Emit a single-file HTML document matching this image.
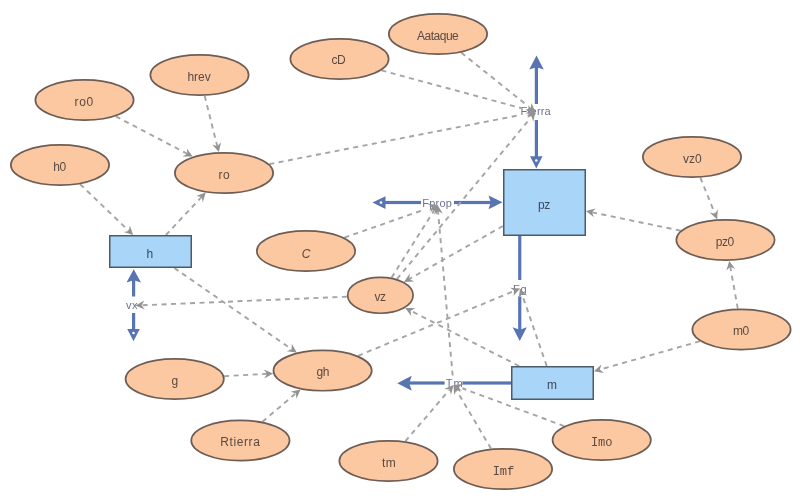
<!DOCTYPE html>
<html><head><meta charset="utf-8"><style>
html,body{margin:0;padding:0;background:#fff;width:800px;height:499px;overflow:hidden}
svg{display:block}
svg{will-change:transform}
.t{font-family:"Liberation Sans",sans-serif;font-size:12px;fill:#5a4a40;text-anchor:middle}
.it{font-style:italic}
.tr{font-family:"Liberation Sans",sans-serif;font-size:12px;fill:#3a4a5e;text-anchor:middle}
.v{font-family:"Liberation Sans",sans-serif;font-size:11px;fill:#687490;text-anchor:middle}
</style></head><body>
<svg width="800" height="499" viewBox="0 0 800 499">
<rect width="800" height="499" fill="#fff"/>
<rect x="534.80" y="66" width="3.2" height="38" fill="#5874b2"/>
<rect x="534.80" y="120" width="3.2" height="37" fill="#5874b2"/>
<path d="M536.5,55.5 L543.75,69.50 L536.50,67.25 L529.25,69.50 Z" fill="#5874b2"/>
<path d="M536.3,168.5 L530.05,156.25 L542.55,156.25 Z" fill="#5874b2"/><circle cx="536.3" cy="160.5" r="1.3" fill="#fff"/>
<rect x="384" y="200.90" width="37" height="3.2" fill="#5874b2"/>
<rect x="454" y="200.90" width="37" height="3.2" fill="#5874b2"/>
<path d="M502.5,202.3 L488.50,209.20 L490.80,202.30 L488.50,195.40 Z" fill="#5874b2"/>
<path d="M372.5,202.6 L385.50,196.20 L385.50,209.00 Z" fill="#5874b2"/><circle cx="381" cy="202.6" r="1.3" fill="#fff"/>
<rect x="132.00" y="279" width="3.2" height="18" fill="#5874b2"/>
<rect x="132.00" y="312" width="3.2" height="18" fill="#5874b2"/>
<path d="M133.75,269.25 L141.00,282.50 L133.75,280.30 L126.50,282.50 Z" fill="#5874b2"/>
<path d="M133.5,341.25 L127.25,329.00 L139.75,329.00 Z" fill="#5874b2"/><circle cx="133.5" cy="333" r="1.3" fill="#fff"/>
<rect x="518.15" y="236" width="3.2" height="44" fill="#5874b2"/>
<rect x="518.15" y="296" width="3.2" height="34" fill="#5874b2"/>
<path d="M519.75,341 L512.65,327.25 L519.75,329.75 L526.85,327.25 Z" fill="#5874b2"/>
<rect x="409" y="381.40" width="36" height="3.2" fill="#5874b2"/>
<rect x="462" y="381.40" width="50" height="3.2" fill="#5874b2"/>
<path d="M397.25,383.25 L411.75,375.85 L409.25,383.25 L411.75,390.65 Z" fill="#5874b2"/>
<line x1="115.8" y1="116.4" x2="187.4" y2="153.8" stroke="#a4a4a4" stroke-width="1.9" stroke-dasharray="5,4.5"/>
<line x1="204.7" y1="95.9" x2="217.3" y2="146.3" stroke="#a4a4a4" stroke-width="1.9" stroke-dasharray="5,4.5"/>
<line x1="80.1" y1="184.2" x2="128.9" y2="230.9" stroke="#a4a4a4" stroke-width="1.9" stroke-dasharray="5,4.5"/>
<line x1="165.9" y1="235.0" x2="201.6" y2="196.9" stroke="#a4a4a4" stroke-width="1.9" stroke-dasharray="5,4.5"/>
<line x1="269.3" y1="164.1" x2="529.6" y2="113.2" stroke="#a4a4a4" stroke-width="1.9" stroke-dasharray="5,4.5"/>
<line x1="381.5" y1="70.4" x2="529.7" y2="110.4" stroke="#a4a4a4" stroke-width="1.9" stroke-dasharray="5,4.5"/>
<line x1="461.2" y1="52.6" x2="530.8" y2="108.3" stroke="#a4a4a4" stroke-width="1.9" stroke-dasharray="5,4.5"/>
<line x1="397.0" y1="279.0" x2="531.7" y2="116.6" stroke="#a4a4a4" stroke-width="1.9" stroke-dasharray="5,4.5"/>
<line x1="344.4" y1="237.6" x2="431.8" y2="207.0" stroke="#a4a4a4" stroke-width="1.9" stroke-dasharray="5,4.5"/>
<line x1="391.6" y1="277.6" x2="434.3" y2="210.1" stroke="#a4a4a4" stroke-width="1.9" stroke-dasharray="5,4.5"/>
<line x1="453.5" y1="385.0" x2="438.0" y2="211.0" stroke="#a4a4a4" stroke-width="1.9" stroke-dasharray="5,4.5"/>
<line x1="503.0" y1="226.0" x2="409.3" y2="279.0" stroke="#a4a4a4" stroke-width="1.9" stroke-dasharray="5,4.5"/>
<line x1="519.1" y1="366.0" x2="410.6" y2="310.7" stroke="#a4a4a4" stroke-width="1.9" stroke-dasharray="5,4.5"/>
<line x1="346.9" y1="296.7" x2="141.5" y2="305.3" stroke="#a4a4a4" stroke-width="1.9" stroke-dasharray="5,4.5"/>
<line x1="174.3" y1="268.0" x2="291.7" y2="349.2" stroke="#a4a4a4" stroke-width="1.9" stroke-dasharray="5,4.5"/>
<line x1="224.2" y1="376.2" x2="267.1" y2="373.8" stroke="#a4a4a4" stroke-width="1.9" stroke-dasharray="5,4.5"/>
<line x1="262.5" y1="421.7" x2="295.9" y2="393.3" stroke="#a4a4a4" stroke-width="1.9" stroke-dasharray="5,4.5"/>
<line x1="358.1" y1="355.8" x2="514.5" y2="290.8" stroke="#a4a4a4" stroke-width="1.9" stroke-dasharray="5,4.5"/>
<line x1="546.7" y1="366.0" x2="522.0" y2="294.2" stroke="#a4a4a4" stroke-width="1.9" stroke-dasharray="5,4.5"/>
<line x1="700.0" y1="341.2" x2="599.8" y2="369.6" stroke="#a4a4a4" stroke-width="1.9" stroke-dasharray="5,4.5"/>
<line x1="737.8" y1="308.6" x2="730.3" y2="266.8" stroke="#a4a4a4" stroke-width="1.9" stroke-dasharray="5,4.5"/>
<line x1="700.4" y1="177.7" x2="714.9" y2="213.7" stroke="#a4a4a4" stroke-width="1.9" stroke-dasharray="5,4.5"/>
<line x1="680.7" y1="230.7" x2="591.9" y2="212.3" stroke="#a4a4a4" stroke-width="1.9" stroke-dasharray="5,4.5"/>
<line x1="405.4" y1="441.2" x2="449.6" y2="389.6" stroke="#a4a4a4" stroke-width="1.9" stroke-dasharray="5,4.5"/>
<line x1="491.0" y1="448.6" x2="456.5" y2="390.2" stroke="#a4a4a4" stroke-width="1.9" stroke-dasharray="5,4.5"/>
<line x1="564.2" y1="426.1" x2="459.1" y2="387.1" stroke="#a4a4a4" stroke-width="1.9" stroke-dasharray="5,4.5"/>
<g fill="#fff"><rect x="521" y="104" width="30" height="16"/><rect x="421" y="197" width="32" height="13"/><rect x="444.6" y="376" width="17.799999999999955" height="14"/><rect x="513" y="280.5" width="14" height="16.0"/><rect x="125" y="296.5" width="13" height="16.5"/></g>
<g id="vl"><text x="535.60" y="115.30" class="v" textLength="30.20" lengthAdjust="spacing">Fterra</text>
<text x="437.05" y="207.00" class="v" textLength="29.60" lengthAdjust="spacing">Fprop</text>
<text x="131.73" y="309.30" class="v" textLength="11.50" lengthAdjust="spacing">vx</text>
<text x="519.85" y="293.30" class="v" textLength="13.52" lengthAdjust="spacing">Fg</text>
<text x="454.18" y="387.10" class="v" textLength="16.83" lengthAdjust="spacing">Tm</text></g>
<path d="M192.7,156.6 L182.6,156.4 L187.4,153.8 L186.8,148.5 Z" fill="#929292"/>
<path d="M218.8,152.1 L212.2,144.5 L217.3,146.3 L221.0,142.3 Z" fill="#929292"/>
<path d="M133.2,235.0 L123.6,232.0 L128.9,230.9 L129.8,225.5 Z" fill="#929292"/>
<path d="M205.7,192.5 L202.8,202.2 L201.6,196.9 L196.3,196.0 Z" fill="#929292"/>
<path d="M535.5,112.0 L527.5,118.1 L529.6,113.2 L525.8,109.3 Z" fill="#929292"/>
<path d="M535.5,112.0 L525.6,114.0 L529.7,110.4 L528.0,105.3 Z" fill="#929292"/>
<path d="M535.5,112.0 L525.7,109.9 L530.8,108.3 L531.3,102.9 Z" fill="#929292"/>
<path d="M535.5,112.0 L533.2,121.8 L531.7,116.6 L526.3,116.1 Z" fill="#929292"/>
<path d="M437.5,205.0 L430.5,212.2 L431.8,207.0 L427.5,203.7 Z" fill="#929292"/>
<path d="M437.5,205.0 L436.5,215.0 L434.3,210.1 L428.9,210.2 Z" fill="#929292"/>
<path d="M437.5,205.0 L442.8,213.6 L438.0,211.0 L433.8,214.4 Z" fill="#929292"/>
<path d="M404.0,281.9 L409.7,273.6 L409.3,279.0 L414.1,281.4 Z" fill="#929292"/>
<path d="M405.2,308.0 L415.3,308.0 L410.6,310.7 L411.2,316.1 Z" fill="#929292"/>
<path d="M135.5,305.5 L144.3,300.6 L141.5,305.3 L144.7,309.6 Z" fill="#929292"/>
<path d="M296.7,352.6 L286.7,351.2 L291.7,349.2 L291.8,343.8 Z" fill="#929292"/>
<path d="M273.1,373.4 L264.3,378.4 L267.1,373.8 L263.8,369.4 Z" fill="#929292"/>
<path d="M300.5,389.4 L296.5,398.7 L295.9,393.3 L290.7,391.8 Z" fill="#929292"/>
<path d="M520.0,288.5 L513.4,296.1 L514.5,290.8 L510.0,287.8 Z" fill="#929292"/>
<path d="M520.0,288.5 L527.2,295.5 L522.0,294.2 L518.7,298.5 Z" fill="#929292"/>
<path d="M594.0,371.3 L601.4,364.5 L599.8,369.6 L603.9,373.1 Z" fill="#929292"/>
<path d="M729.2,260.9 L735.3,269.0 L730.3,266.8 L726.4,270.6 Z" fill="#929292"/>
<path d="M717.1,219.3 L709.6,212.6 L714.9,213.7 L717.9,209.3 Z" fill="#929292"/>
<path d="M586.0,211.1 L595.7,208.5 L591.9,212.3 L593.9,217.3 Z" fill="#929292"/>
<path d="M453.5,385.0 L451.1,394.8 L449.6,389.6 L444.2,388.9 Z" fill="#929292"/>
<path d="M453.5,385.0 L461.9,390.5 L456.5,390.2 L454.2,395.0 Z" fill="#929292"/>
<path d="M453.5,385.0 L463.5,383.9 L459.1,387.1 L460.4,392.4 Z" fill="#929292"/>
<ellipse cx="84.5" cy="100" rx="49.15" ry="20.15" fill="#fcc8a2" stroke="#6d5d54" stroke-width="1.7"/>
<ellipse cx="199.5" cy="75" rx="49.15" ry="20.15" fill="#fcc8a2" stroke="#6d5d54" stroke-width="1.7"/>
<ellipse cx="60" cy="165" rx="49.15" ry="20.15" fill="#fcc8a2" stroke="#6d5d54" stroke-width="1.7"/>
<ellipse cx="224" cy="173" rx="49.15" ry="20.15" fill="#fcc8a2" stroke="#6d5d54" stroke-width="1.7"/>
<ellipse cx="339.5" cy="59" rx="49.15" ry="20.15" fill="#fcc8a2" stroke="#6d5d54" stroke-width="1.7"/>
<ellipse cx="438" cy="34" rx="49.15" ry="20.15" fill="#fcc8a2" stroke="#6d5d54" stroke-width="1.7"/>
<ellipse cx="306" cy="251" rx="49.15" ry="20.15" fill="#fcc8a2" stroke="#6d5d54" stroke-width="1.7"/>
<ellipse cx="380.4" cy="295.3" rx="32.75" ry="17.95" fill="#fcc8a2" stroke="#6d5d54" stroke-width="1.7"/>
<ellipse cx="692" cy="157" rx="49.15" ry="20.15" fill="#fcc8a2" stroke="#6d5d54" stroke-width="1.7"/>
<ellipse cx="725.5" cy="240" rx="49.15" ry="20.15" fill="#fcc8a2" stroke="#6d5d54" stroke-width="1.7"/>
<ellipse cx="741.5" cy="329.5" rx="49.15" ry="20.15" fill="#fcc8a2" stroke="#6d5d54" stroke-width="1.7"/>
<ellipse cx="174.7" cy="379" rx="49.15" ry="20.15" fill="#fcc8a2" stroke="#6d5d54" stroke-width="1.7"/>
<ellipse cx="322.6" cy="370.6" rx="49.15" ry="20.15" fill="#fcc8a2" stroke="#6d5d54" stroke-width="1.7"/>
<ellipse cx="240.4" cy="440.5" rx="49.15" ry="20.15" fill="#fcc8a2" stroke="#6d5d54" stroke-width="1.7"/>
<ellipse cx="388.5" cy="461" rx="49.15" ry="20.15" fill="#fcc8a2" stroke="#6d5d54" stroke-width="1.7"/>
<ellipse cx="503" cy="469" rx="49.15" ry="20.15" fill="#fcc8a2" stroke="#6d5d54" stroke-width="1.7"/>
<ellipse cx="601.7" cy="440" rx="49.15" ry="20.15" fill="#fcc8a2" stroke="#6d5d54" stroke-width="1.7"/>
<rect x="109.75" y="235.75" width="81.5" height="31.5" fill="#a8d5f8" stroke="#4d5b69" stroke-width="1.5"/>
<rect x="503.75" y="169.75" width="81.5" height="65.5" fill="#a8d5f8" stroke="#4d5b69" stroke-width="1.5"/>
<rect x="511.75" y="366.75" width="81.5" height="32.5" fill="#a8d5f8" stroke="#4d5b69" stroke-width="1.5"/>
<g id="txt"><text x="83.85" y="105.80" class="t" textLength="18.70" lengthAdjust="spacing">ro0</text>
<text x="199.08" y="80.80" class="t" textLength="23.35" lengthAdjust="spacing">hrev</text>
<text x="59.74" y="171.30" class="t" textLength="12.86" lengthAdjust="spacing">h0</text>
<text x="224.11" y="179.40" class="t" textLength="10.98" lengthAdjust="spacing">ro</text>
<text x="338.62" y="64.40" class="t" textLength="14.17" lengthAdjust="spacing">cD</text>
<text x="437.88" y="40.05" class="t" textLength="41.72" lengthAdjust="spacing">Aataque</text>
<text x="306.00" y="257.55" class="t"><tspan font-style="italic">C</tspan></text>
<text x="380.22" y="301.30" class="t" textLength="11.50" lengthAdjust="spacing">vz</text>
<text x="692.30" y="163.30" class="t" textLength="18.60" lengthAdjust="spacing">vz0</text>
<text x="725.00" y="245.70" class="t" textLength="18.36" lengthAdjust="spacing">pz0</text>
<text x="741.20" y="335.30" class="t" textLength="16.17" lengthAdjust="spacing">m0</text>
<text x="174.77" y="385.00" class="t">g</text>
<text x="323.00" y="376.30" class="t" textLength="12.86" lengthAdjust="spacing">gh</text>
<text x="240.10" y="446.40" class="t" textLength="39.50" lengthAdjust="spacing">Rtierra</text>
<text x="388.88" y="466.70" class="t" textLength="13.75" lengthAdjust="spacing">tm</text>
<text x="503.48" y="475.00" class="t"><tspan style="font-family:Liberation Mono">Imf</tspan></text>
<text x="601.70" y="446.30" class="t"><tspan style="font-family:Liberation Mono">Imo</tspan></text>
<text x="149.77" y="257.70" class="tr">h</text>
<text x="544.11" y="208.60" class="tr" textLength="12.19" lengthAdjust="spacing">pz</text>
<text x="552.07" y="388.70" class="tr">m</text></g>
</svg>
</body></html>
